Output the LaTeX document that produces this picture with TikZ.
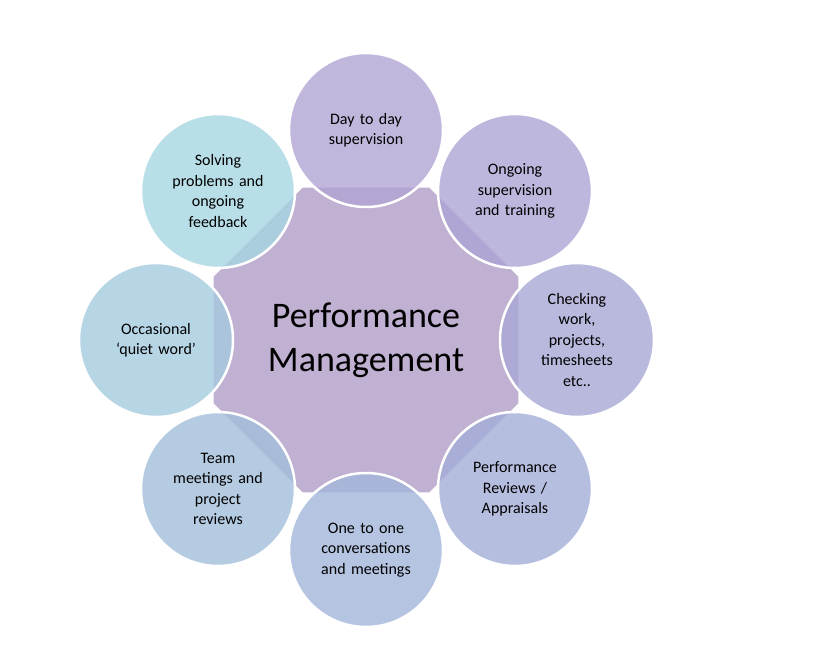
\documentclass[tikz,border=0pt]{standalone}
\usepackage{fontspec}
\setmainfont{Carlito}
\begin{document}
\begin{tikzpicture}[x=1pt,y=-1pt,
  circ/.style={circle,minimum size=154pt,inner sep=0pt,fill opacity=0.8,draw=white,draw opacity=1,line width=2.5pt,text opacity=1,align=center,font=\fontsize{16}{20.5}\selectfont,text width=110pt}]
\useasboundingbox (0,0) rectangle (831,666);
\fill[fill={rgb,255:red,192;green,176;blue,210}] (366,340) +(22.5:165) -- +(67.5:165) -- +(112.5:165) -- +(157.5:165) -- +(202.5:165) -- +(247.5:165) -- +(292.5:165) -- +(337.5:165) -- cycle;
\definecolor{c1}{RGB}{178,164,210}
\definecolor{c2}{RGB}{172,164,212}
\definecolor{c3}{RGB}{168,168,214}
\definecolor{c4}{RGB}{164,174,216}
\definecolor{c5}{RGB}{162,182,218}
\definecolor{c6}{RGB}{162,190,218}
\definecolor{c7}{RGB}{164,202,222}
\definecolor{c8}{RGB}{166,214,226}
\node[circ,fill=c1] (n1) at (366,130) {Day to day\\supervision};
\node[circ,fill=c2] (n2) at (515,191) {Ongoing\\supervision\\and training};
\node[circ,fill=c3] (n3) at (577,340) {Checking\\work,\\projects,\\timesheets\\etc..};
\node[circ,fill=c4] (n4) at (515,489) {Performance\\Reviews /\\Appraisals};
\node[circ,fill=c5] (n5) at (366,550) {One to one\\conversations\\and meetings};
\node[circ,fill=c6] (n6) at (218,489) {Team\\meetings and\\project\\reviews};
\node[circ,fill=c7] (n7) at (156,340) {Occasional\\‘quiet word’};
\node[circ,fill=c8] (n8) at (218,191) {Solving\\problems and\\ongoing\\feedback};
\node[align=center,font=\fontsize{36}{44}\selectfont] (c) at (366,340) {Performance\\Management};
\end{tikzpicture}
\end{document}
